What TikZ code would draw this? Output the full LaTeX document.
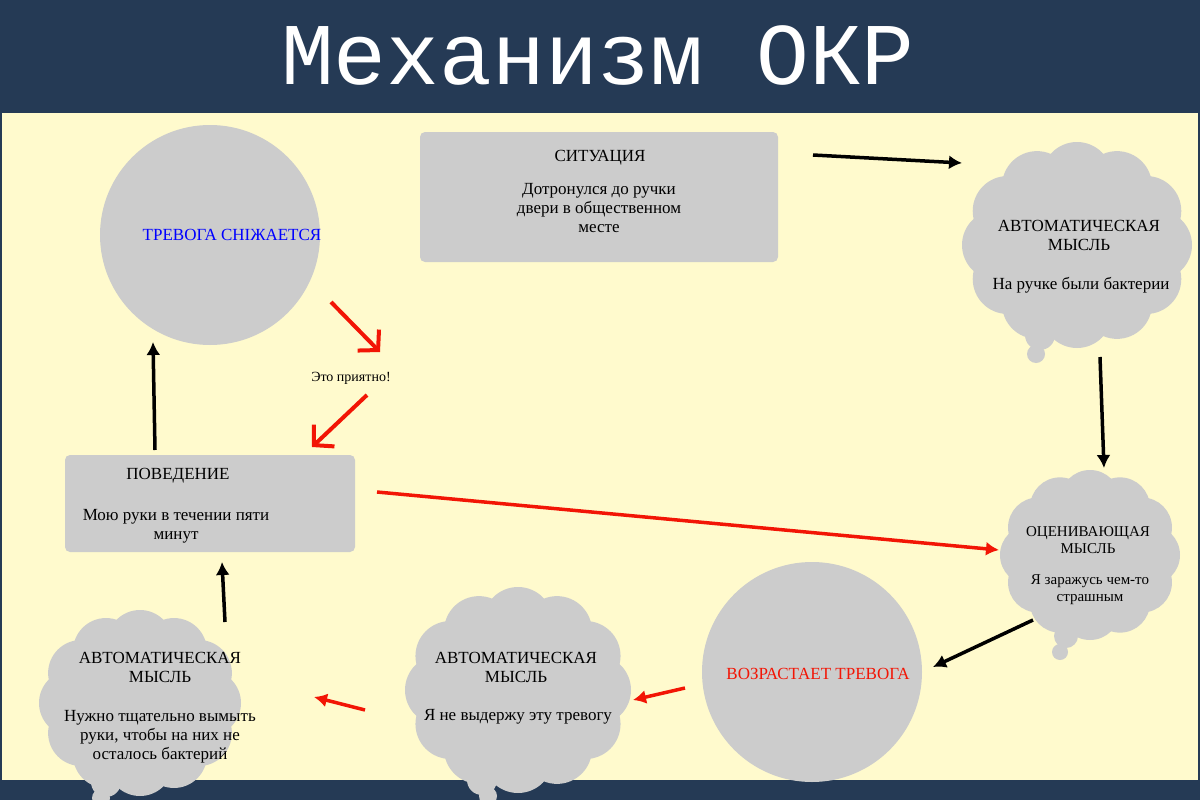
\documentclass[tikz,border=0pt]{standalone}
\usepackage{fontspec}
\setmainfont{Liberation Serif}
\newfontfamily\monofnt{Liberation Mono}
\usetikzlibrary{arrows.meta}
\definecolor{navy}{HTML}{253A55}
\definecolor{bg}{HTML}{FFFACD}
\definecolor{gr}{HTML}{CCCCCC}
\definecolor{rd}{HTML}{F21505}
\tikzset{
  blk/.style={line width=3.5pt,-{Latex[length=13pt,width=14pt]}},
  rdl/.style={rd,line width=3.5pt,-{Latex[length=13pt,width=14pt]}},
  chev/.style={rd,line width=4pt,-{Straight Barb[length=14pt,width=30pt,line width=4pt]}},
  txt/.style={font=\fontsize{17}{19}\selectfont,align=center,text=black},
  boxs/.style={fill=gr,rounded corners=5pt},
}
\newcommand{\mycloud}[5]{% cx cy a b r
  \fill[gr] (#1,#2) ellipse [x radius=#3,y radius=#4];
  \foreach \ang in {0,30,...,330}{
    \fill[gr] ({#1+#3*cos(\ang)},{#2+#4*sin(\ang)}) circle [radius=#5];}
}
\begin{document}
\begin{tikzpicture}[x=1pt,y=-1pt]
\useasboundingbox (0,0) rectangle (1200,800);
\fill[bg] (0,0) rectangle (1200,800);
\fill[navy] (0,0) rectangle (1200,113);
\fill[navy] (0,780) rectangle (1200,800);
\draw[navy,line width=2pt] (1,1) rectangle (1199,799);
\node[text=white,font=\monofnt\fontsize{88}{90}\selectfont] (title) at (598,55) {Механизм ОКР};

% shapes
\fill[gr] (210,235) circle [radius=110];
\node[text=blue,font=\fontsize{17}{19}\selectfont] (low) at (232,235) {ТРЕВОГА СНIЖАЕТСЯ};
\fill[gr] (812,672) circle [radius=110];
\node[text=rd,font=\fontsize{17}{19}\selectfont] (high) at (818,674) {ВОЗРАСТАЕТ ТРЕВОГА};

\fill[boxs] (420,132) rectangle (778,262);
\node[txt] (sit) at (600,158) {СИТУАЦИЯ};
\node[txt] (sitt) at (599,208) {Дотронулся до ручки\\двери в общественном\\месте};
\fill[boxs] (65,455) rectangle (355,552);
\node[txt] (beh) at (178,476) {ПОВЕДЕНИЕ};
\node[txt] (beht) at (176,526) {Мою руки в течении пяти\\минут};

% clouds
\begin{scope}
\mycloud{1077}{245}{80}{68}{35}
\fill[gr] (1040,335) circle [radius=15]; \fill[gr] (1036,354) circle [radius=9];
\end{scope}
\node[txt] (c1a) at (1079,235) {АВТОМАТИЧЕСКАЯ\\МЫСЛЬ};
\node[txt] (c1b) at (1081,285) {На ручке были бактерии};
\mycloud{1090}{555}{60}{55}{30}
\fill[gr] (1066,636) circle [radius=12]; \fill[gr] (1060,652) circle [radius=8];
\node[txt,font=\fontsize{15}{17}\selectfont] (c2a) at (1088,540) {ОЦЕНИВАЮЩАЯ\\МЫСЛЬ};
\node[txt,font=\fontsize{15}{17}\selectfont] (c2b) at (1090,590) {Я заражусь чем-то\\страшным};
\mycloud{518}{690}{78}{68}{35}
\fill[gr] (482,780) circle [radius=15]; \fill[gr] (488,796) circle [radius=9];
\node[txt] (c3a) at (516,667) {АВТОМАТИЧЕСКАЯ\\МЫСЛЬ};
\node[txt] (c3b) at (518,717) {Я не выдержу эту тревогу};
\mycloud{140}{703}{68}{60}{33}
\fill[gr] (106,782) circle [radius=15]; \fill[gr] (101,798) circle [radius=9];
\node[txt] (c4a) at (160,667) {АВТОМАТИЧЕСКАЯ\\МЫСЛЬ};
\node[txt] (c4b) at (160,737) {Нужно тщательно вымыть\\руки, чтобы на них не\\осталось бактерий};

\node[txt,font=\fontsize{14}{16}\selectfont] (nice) at (351,378) {Это приятно!};

% connectors
\coordinate (a1) at (813,155); \coordinate (a1e) at (962,163);
\draw[blk] (a1) -- (a1e);
\coordinate (a2) at (1100,357); \coordinate (a2e) at (1104,468);
\draw[blk] (a2) -- (a2e);
\coordinate (a3) at (1033,620); \coordinate (a3e) at (933,667);
\draw[blk] (a3) -- (a3e);
\coordinate (a4) at (685,688); \coordinate (a4e) at (633,700);
\draw[rdl] (a4) -- (a4e);
\coordinate (a5) at (365,710); \coordinate (a5e) at (314,697);
\draw[rdl] (a5) -- (a5e);
\coordinate (a6) at (225,622); \coordinate (a6e) at (222,562);
\draw[blk] (a6) -- (a6e);
\coordinate (a7) at (155,450); \coordinate (a7e) at (153,342);
\draw[blk] (a7) -- (a7e);
\coordinate (a8) at (377,492); \coordinate (a8e) at (999,550);
\draw[rdl] (a8) -- (a8e);
\coordinate (a9) at (331,302); \coordinate (a9e) at (380,352);
\draw[chev] (a9) -- (a9e);
\coordinate (a10) at (367,395); \coordinate (a10e) at (312,447);
\draw[chev] (a10) -- (a10e);
\end{tikzpicture}
\end{document}
